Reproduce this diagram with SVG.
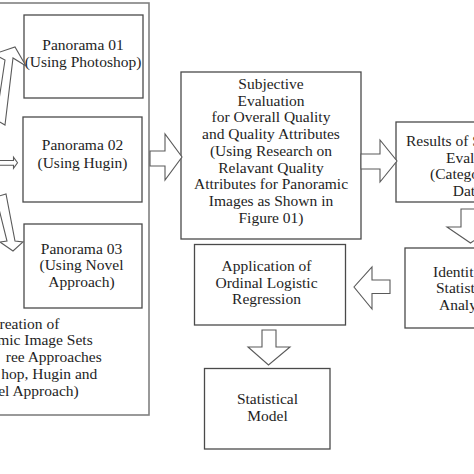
<svg xmlns="http://www.w3.org/2000/svg" width="474" height="474" viewBox="0 0 474 474">
<style>
.box{fill:#fff;stroke:#4a4a4a;stroke-width:1.3}
.outer{fill:#fff;stroke:#808080;stroke-width:1.6}
.arr{fill:#fff;stroke:#5a5a5a;stroke-width:1.1;stroke-linejoin:miter}
text{font-family:"Liberation Serif","Times New Roman",serif;font-size:15.5px;fill:#1e1e1e}
.c{text-anchor:middle}
.e{text-anchor:end}
</style>
<rect width="474" height="474" fill="#fff"/>
<g id="creation">
<rect class="outer" x="-10" y="3" width="159" height="412"/>
<text class="e" x="59.3" y="328.5">reation of</text>
<text class="e" x="92.7" y="345">mic Image Sets</text>
<text class="e" x="101.7" y="362">ree Approaches</text>
<text class="e" x="97.3" y="379">hop, Hugin and</text>
<text class="e" x="78.7" y="396">el Approach)</text>
</g>
<g id="pano1">
<rect class="box" x="24" y="15" width="119" height="83"/>
<text class="c" x="83" y="50">Panorama 01</text>
<text class="c" x="83" y="67">(Using Photoshop)</text>
</g>
<g id="pano2">
<rect class="box" x="23" y="117" width="119" height="85"/>
<text class="c" x="82.5" y="150">Panorama 02</text>
<text class="c" x="82.5" y="168">(Using Hugin)</text>
</g>
<g id="pano3">
<rect class="box" x="24" y="224" width="118" height="84"/>
<text class="c" x="81.5" y="253.5">Panorama 03</text>
<text class="c" x="81.5" y="270">(Using Novel</text>
<text class="c" x="81.5" y="287">Approach)</text>
</g>
<g id="subjective">
<rect class="box" x="181" y="72" width="180" height="167"/>
<text class="c" x="271" y="88.5">Subjective</text>
<text class="c" x="271" y="105.5">Evaluation</text>
<text class="c" x="271" y="122">for Overall Quality</text>
<text class="c" x="271" y="139">and Quality Attributes</text>
<text class="c" x="271" y="155.5">(Using Research on</text>
<text class="c" x="271" y="172.5">Relavant Quality</text>
<text class="c" x="271" y="189">Attributes for Panoramic</text>
<text class="c" x="271" y="206">Images as Shown in</text>
<text class="c" x="271" y="223">Figure 01)</text>
</g>
<g id="results">
<rect class="box" x="396" y="122" width="100" height="80"/>
<text x="406" y="145.5">Results of S</text>
<text x="446" y="162.5">Evalua</text>
<text x="430" y="179">(Catego</text>
<text x="452.7" y="195.5">Dat</text>
</g>
<g id="identify">
<rect class="box" x="405" y="248" width="90" height="80"/>
<text x="433" y="277">Identit</text>
<text x="436" y="293">Statist</text>
<text x="439" y="310">Analy</text>
</g>
<g id="application">
<rect class="box" x="194.5" y="244.5" width="151" height="80.5"/>
<text class="c" x="266.5" y="271">Application of</text>
<text class="c" x="266.5" y="287.5">Ordinal Logistic</text>
<text class="c" x="266.5" y="304">Regression</text>
</g>
<g id="model">
<rect class="box" x="204.5" y="368.5" width="125.5" height="80.5"/>
<text class="c" x="267.5" y="404">Statistical</text>
<text class="c" x="267.5" y="420.5">Model</text>
</g>
<g id="connectors">
<polygon class="arr" points="5,125 13,58 26,66 15,47 -6,54 5,60 -4,120"/>
<polygon class="arr" points="-2,160.5 13.5,160.5 13.5,157.3 17.5,162.8 13.5,168.3 13.5,165.2 -2,165.2"/>
<polygon class="arr" points="-4,197 7,241 0,242 13,251 23,242 15,241 6,194"/>
<polygon class="arr" points="150,151 165,151 165,134 182,157 165,180 165,166 150,166"/>
<polygon class="arr" points="361,154 380,154 380,140 397,161 380,182 380,169 361,169"/>
<polygon class="arr" points="461,209 479,209 479,227 494,227 470.5,243 447,227 461,227"/>
<polygon class="arr" points="390,280 372,280 372,267 354,287 372,309 372,293.5 390,293.5"/>
<polygon class="arr" points="262,330 276,330 276,347 290,347 268.5,365 248,347 262,347"/>
</g>
</svg>
